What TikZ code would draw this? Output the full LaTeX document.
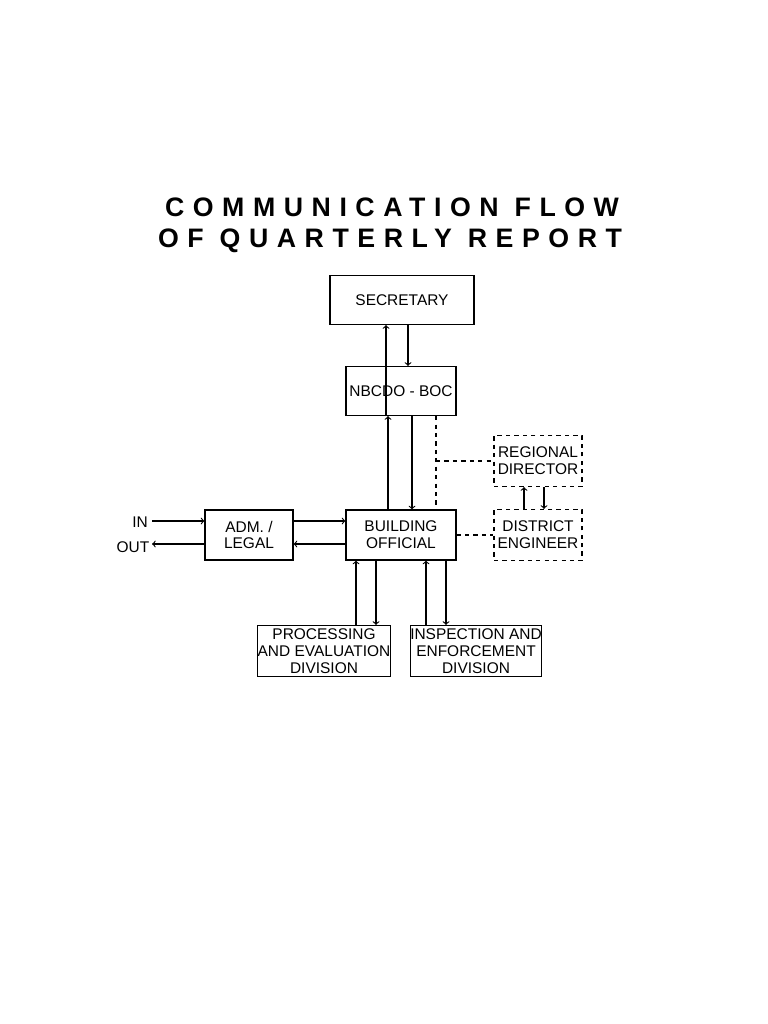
\documentclass[tikz,border=0pt]{standalone}
\usepackage{fontspec}
\setmainfont{Liberation Sans}
\newfontfamily\titlefont[LetterSpace=32]{Liberation Sans}
\usetikzlibrary{arrows,positioning}

\tikzset{
  box/.style={draw,thick,align=center,font=\fontsize{11}{12}\selectfont,inner sep=0pt},
  dbox/.style={box,dashed},
  flow/.style={->,>=to,thick},
  link/.style={thick,dashed}
}

\begin{document}
\begin{tikzpicture}[x=0.025cm,y=-0.025cm]
  \useasboundingbox (0,0) rectangle (768,1024);

  % title
  \node (t1) at (392,207) {\titlefont\fontsize{19}{22}\selectfont\bfseries COMMUNICATION FLOW};
  \node (t2) at (390,241) {\titlefont\fontsize{19}{22}\selectfont\bfseries OF QUARTERLY REPORT};

  % boxes
  \node[box,minimum width=144*0.025cm,minimum height=49*0.025cm] (sec) at (402,300) {SECRETARY};
  \node[box,minimum width=110*0.025cm,minimum height=49*0.025cm] (nb) at (401,391) {NBCDO - BOC};
  \node[box,minimum width=110*0.025cm,minimum height=50*0.025cm] (bo) at (401,535) {BUILDING\\OFFICIAL};
  \node[box,minimum width=88*0.025cm,minimum height=50*0.025cm] (adm) at (249,535) {ADM. /\\LEGAL};
  \node[dbox,minimum width=88*0.025cm,minimum height=51*0.025cm] (rd) at (538,461) {REGIONAL\\DIRECTOR};
  \node[dbox,minimum width=88*0.025cm,minimum height=51*0.025cm] (de) at (538,535) {DISTRICT\\ENGINEER};
  \node[box,minimum width=130*0.025cm,minimum height=51*0.025cm] (ped) at (324,651) {PROCESSING\\AND EVALUATION\\DIVISION};
  \node[box,minimum width=129*0.025cm,minimum height=51*0.025cm] (ied) at (476,651) {INSPECTION AND\\ENFORCEMENT\\DIVISION};

  \node[font=\fontsize{11}{12}\selectfont] (in) at (140,522) {IN};
  \node[font=\fontsize{11}{12}\selectfont] (out) at (133,547) {OUT};
  \coordinate (inend) at (152,521);
  \coordinate (outend) at (152,544);
  \coordinate (jn) at (436,461);

  % solid flows
  \draw[flow] (nb.south -| 386,0) -- (sec.south -| 386,0);
  \draw[flow] (sec.south -| 408,0) -- (nb.north -| 408,0);
  \draw[flow] (bo.north -| 388,0) -- (nb.south -| 388,0);
  \draw[flow] (nb.south -| 412,0) -- (bo.north -| 412,0);
  \draw[flow] (de.north -| 524,0) -- (rd.south -| 524,0);
  \draw[flow] (rd.south -| 544,0) -- (de.north -| 544,0);
  \draw[flow] (adm.east |- 0,521) -- (bo.west |- 0,521);
  \draw[flow] (bo.west |- 0,544) -- (adm.east |- 0,544);
  \draw[flow] (inend) -- (adm.west |- inend);
  \draw[flow] (adm.west |- outend) -- (outend);
  \draw[flow] (ped.north -| 356,0) -- (bo.south -| 356,0);
  \draw[flow] (bo.south -| 376,0) -- (ped.north -| 376,0);
  \draw[flow] (ied.north -| 426,0) -- (bo.south -| 426,0);
  \draw[flow] (bo.south -| 446,0) -- (ied.north -| 446,0);

  % dashed links
  \draw[link] (nb.south -| jn) -- (bo.north -| jn);
  \draw[link] (jn) -- (rd.west);
  \draw[link] (bo.east) -- (de.west);
\end{tikzpicture}
\end{document}
